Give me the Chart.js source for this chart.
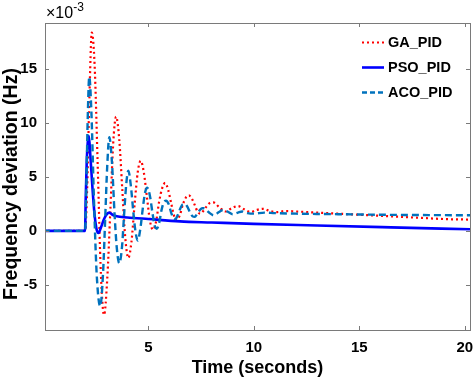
<!DOCTYPE html>
<html>
<head>
<meta charset="utf-8">
<script src="https://cdn.jsdelivr.net/npm/chart.js@4.4.1/dist/chart.umd.min.js"></script>
<style>
html,body{margin:0;padding:0;background:#fff;}
#wrap{width:474px;height:379px;position:relative;}
</style>
</head>
<body>
<div id="wrap"><canvas id="c" width="474" height="379"></canvas></div>
<script>
// ---- data (frequency deviation in units of 1e-3 Hz) ----
const seriesNames = ['GA_PID', 'PSO_PID', 'ACO_PID'];
const gaTime = [0,2.0,2.1,2.2,2.32,2.45,2.6,2.75,2.9,3.05,3.2,3.33,3.47,3.62,3.76,3.9,4.05,4.2,4.35,4.5,4.64,4.78,4.93,5.07,5.22,5.37,5.51,5.66,5.8,5.94,6.08,6.22,6.35,6.5,6.63,6.78,6.92,7.06,7.2,7.33,7.47,7.62,7.77,7.92,8.08,8.36,8.65,8.95,9.25,9.55,9.85,10.15,10.45,10.75,11.1,11.5,12,13,14,15,16,17,18,19,20.25];
const gaFreq = [0,0,4,12,18.4,15.5,6,-4,-7.8,-4.5,2,8,10.6,8.5,4,-0.5,-2.5,-1,2.5,5.5,6.5,5.5,3.2,1,0.1,0.9,2.7,4,4.45,3.8,2.6,1.4,1.0,1.5,2.4,3.1,3.3,3.0,2.4,1.8,1.6,1.9,2.3,2.6,2.65,2.2,1.8,2.1,2.3,2.0,1.75,1.95,2.05,1.85,1.75,1.85,1.8,1.7,1.6,1.5,1.4,1.3,1.2,1.1,1.05];
const psoTime = [0,2.0,2.03,2.08,2.13,2.18,2.25,2.35,2.45,2.55,2.63,2.75,2.9,3.05,3.15,3.3,3.5,4,5,6.5,8,10,13,16.5,20.25];
const psoFreq = [0,0,3,6.5,8.3,8.8,7,4,1.5,0.1,-0.2,0.3,1.1,1.6,1.7,1.5,1.35,1.25,1.1,0.88,0.78,0.65,0.5,0.33,0.15];
const acoTime = [0,2.0,2.05,2.12,2.2,2.3,2.42,2.55,2.72,2.85,2.97,3.05,3.15,3.27,3.4,3.5,3.62,3.75,3.85,3.95,4.05,4.17,4.3,4.4,4.5,4.62,4.75,4.85,4.95,5.08,5.2,5.3,5.4,5.52,5.62,5.72,5.84,5.96,6.08,6.18,6.28,6.4,6.52,6.62,6.74,6.86,6.98,7.1,7.2,7.32,7.45,7.55,7.64,7.85,8.1,8.35,8.55,8.8,9.0,9.25,9.45,9.7,10,10.5,11,12,14,16,18,20.25];
const acoFreq = [0,0,3,10,14.3,11,3,-4,-7.0,-4,2,6,8.7,6.5,1.5,-1.5,-3.0,-1.5,1.5,4.3,5.6,4.2,1.5,-0.2,-0.9,0.2,2.3,3.6,4.0,3.2,1.6,0.5,0.2,0.8,1.9,2.6,2.8,2.5,1.7,1.2,1.1,1.5,2.1,2.45,2.5,2.2,1.7,1.35,1.3,1.6,1.95,2.1,2.1,1.75,1.45,1.75,1.95,1.75,1.55,1.7,1.8,1.65,1.6,1.7,1.65,1.6,1.55,1.5,1.47,1.45];
const xTickValues = [5, 10, 15, 20];
const yTickValues = [-5, 0, 5, 10, 15];
const xRange = [0.1, 20.25];
const yRange = [-9.2, 19.3];
const xTitle = 'Time (seconds)';
const yTitle = 'Frequency deviation (Hz)';

const toPts = (t, v) => t.map((x, i) => ({x: x, y: v[i]}));
const styles = [
  {color: '#ff0000', dash: [2, 3], width: 2.2, order: 2},
  {color: '#0000ff', dash: [], width: 2.6, order: 1},
  {color: '#0072bd', dash: [7, 4], width: 2.4, order: 0}
];
const seriesData = [toPts(gaTime, gaFreq), toPts(psoTime, psoFreq), toPts(acoTime, acoFreq)];

const FONT = '"Liberation Sans", Arial, Helvetica, sans-serif';

const boxPlugin = {
  id: 'boxPlugin',
  afterDatasetsDraw(chart) {
    const ctx = chart.ctx, a = chart.chartArea;
    const xs = chart.scales.x, ys = chart.scales.y;
    ctx.save();
    ctx.strokeStyle = '#7a7a7a';
    ctx.lineWidth = 1;
    ctx.setLineDash([]);
    ctx.strokeRect(Math.round(a.left) + 0.5, Math.round(a.top) + 0.5, Math.round(a.right - a.left), Math.round(a.bottom - a.top));
    const tl = 4;
    ctx.beginPath();
    xs.ticks.forEach(t => {
      const px = Math.round(xs.getPixelForValue(t.value)) + 0.5;
      ctx.moveTo(px, a.bottom); ctx.lineTo(px, a.bottom - tl);
      ctx.moveTo(px, a.top); ctx.lineTo(px, a.top + tl);
    });
    ys.ticks.forEach(t => {
      const py = Math.round(ys.getPixelForValue(t.value)) + 0.5;
      ctx.moveTo(a.left, py); ctx.lineTo(a.left + tl, py);
      ctx.moveTo(a.right, py); ctx.lineTo(a.right - tl, py);
    });
    ctx.stroke();
    // exponent label
    ctx.fillStyle = '#000';
    ctx.textBaseline = 'alphabetic';
    ctx.textAlign = 'left';
    ctx.font = '16px ' + FONT;
    ctx.fillText('\u00d710', a.left + 1, a.top - 5);
    const w = ctx.measureText('\u00d710').width;
    ctx.font = '12px ' + FONT;
    ctx.fillText('-3', a.left + 1 + w, a.top - 12);
    // y title
    ctx.save();
    ctx.translate(12, 184);
    ctx.rotate(-Math.PI / 2);
    ctx.font = 'bold 19.5px ' + FONT;
    ctx.textAlign = 'center';
    ctx.textBaseline = 'middle';
    ctx.fillText(yTitle, 0, 0);
    ctx.restore();
    // legend
    const lx0 = 362, lx1 = 384, tx = 388, ly = [42.5, 67.5, 92.5];
    chart.data.datasets.forEach((ds, i) => {
      ctx.strokeStyle = ds.borderColor;
      ctx.lineWidth = ds.borderWidth;
      ctx.setLineDash(i === 2 ? [5, 3] : ds.borderDash);
      ctx.beginPath();
      ctx.moveTo(lx0, ly[i]); ctx.lineTo(lx1, ly[i]);
      ctx.stroke();
      ctx.setLineDash([]);
      ctx.fillStyle = '#000';
      ctx.font = 'bold 14.5px ' + FONT;
      ctx.textAlign = 'left';
      ctx.textBaseline = 'middle';
      ctx.fillText(ds.label, tx, ly[i] + 0.5);
    });
    ctx.restore();
  }
};

new Chart(document.getElementById('c'), {
  type: 'line',
  data: {
    datasets: seriesNames.map((name, i) => ({
      label: name,
      data: seriesData[i],
      borderColor: styles[i].color,
      borderDash: styles[i].dash,
      borderWidth: styles[i].width,
      order: styles[i].order,
      pointRadius: 0,
      fill: false,
      cubicInterpolationMode: 'monotone',
      borderCapStyle: 'butt'
    }))
  },
  options: {
    responsive: false,
    animation: false,
    events: [],
    layout: {padding: {top: 23, right: 4, left: 0, bottom: 0}},
    plugins: {legend: {display: false}, tooltip: {enabled: false}},
    scales: {
      x: {
        type: 'linear',
        min: xRange[0], max: xRange[1],
        afterBuildTicks: s => { s.ticks = xTickValues.map(v => ({value: v})); },
        afterFit: s => { s.height = 49; s.paddingLeft = 0; s.paddingRight = 0; },
        grid: {display: false, drawTicks: false},
        border: {display: false},
        ticks: {color: '#000', font: {family: FONT, size: 15, weight: 'bold'}, padding: 9, maxRotation: 0,
                callback: v => String(v)},
        title: {display: true, text: xTitle, color: '#000', font: {family: FONT, size: 18, weight: 'bold'}, padding: 0}
      },
      y: {
        type: 'linear',
        min: yRange[0], max: yRange[1],
        afterBuildTicks: s => { s.ticks = yTickValues.map(v => ({value: v})); },
        afterFit: s => { s.width = 45; s.paddingTop = 0; s.paddingBottom = 0; },
        grid: {display: false, drawTicks: false},
        border: {display: false},
        ticks: {color: '#000', font: {family: FONT, size: 15, weight: 'bold'}, padding: 8,
                callback: v => String(v)},
        title: {display: false}
      }
    }
  },
  plugins: [boxPlugin]
});
</script>
</body>
</html>
